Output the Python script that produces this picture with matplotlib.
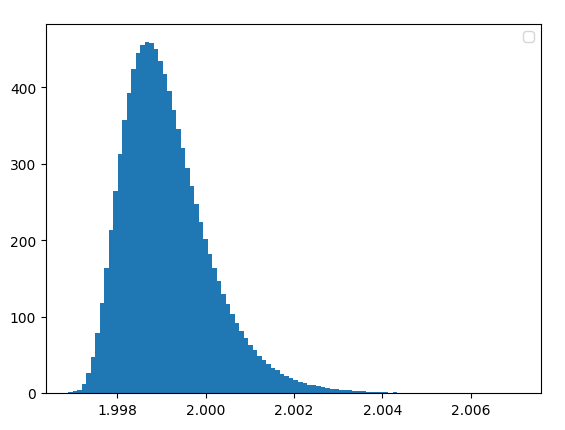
import numpy as np
import matplotlib
matplotlib.use("Agg")
import matplotlib.pyplot as plt

x_min = 1.996895
x_max = 2.007083
counts = [1, 2, 4, 12, 26, 47, 79, 118, 164, 214, 264, 313, 357, 393, 424, 445, 456, 460,
          458, 450, 434, 417, 395, 371, 346, 321, 295, 271, 247, 224, 202, 182, 164, 147,
          130, 117, 104, 92,
          81, 72, 63, 56, 48, 43, 38, 33, 30, 25, 22, 20, 17, 15, 13, 10, 10, 9, 8, 6, 5, 5,
          4, 4, 4, 3, 3, 3, 1, 1, 1, 1, 1, 0, 1]
counts = counts + [0] * (100 - len(counts))

edges = np.linspace(x_min, x_max, len(counts) + 1)
centers = (edges[:-1] + edges[1:]) / 2

fig, ax = plt.subplots(figsize=(5.65, 4.31), dpi=100)
fig.subplots_adjust(left=46/565, right=541/565, top=1-25/431, bottom=1-394/431)
ax.hist(centers, bins=edges, weights=counts, histtype='stepfilled', linewidth=0)
ax.set_xlim(1.996386, 2.007592)
ax.set_xticks([1.998, 2.000, 2.002, 2.004, 2.006])
ax.legend()
fig.savefig("out.png")
